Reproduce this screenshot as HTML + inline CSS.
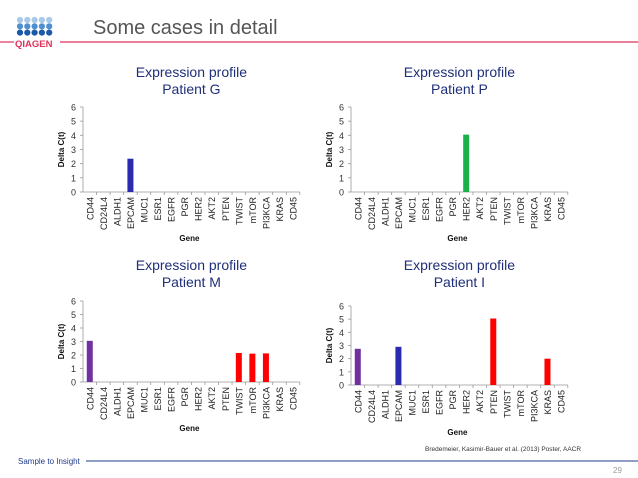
<!DOCTYPE html>
<html><head><meta charset="utf-8"><style>
body{margin:0;width:638px;height:478px;background:#fff;overflow:hidden;font-family:"Liberation Sans",sans-serif}
svg{display:block}
</style></head><body>
<svg id="s" width="638" height="478">
<g id="logo"></g>
<text x="93" y="34" font-size="20" fill="#555">Some cases in detail</text>
<line x1="0" y1="42" x2="14" y2="42" stroke="#e0325a" stroke-width="1.2"/>
<line x1="60" y1="42" x2="638" y2="42" stroke="#e0325a" stroke-width="1.2"/>
<text x="18" y="464" font-size="8" fill="#1f3a8a">Sample to Insight</text>
<line x1="86" y1="461" x2="638" y2="461" stroke="#1f3a8a" stroke-width="1"/>
<text x="613" y="473" font-size="8" fill="#999">29</text>
<text x="425" y="451" font-size="6.5" fill="#333">Bredemeier, Kasimir-Bauer et al. (2013) Poster, AACR</text>
</svg>
<script>
const genes=["CD44","CD24L4","ALDH1","EPCAM","MUC1","ESR1","EGFR","PGR","HER2","AKT2","PTEN","TWIST","mTOR","PI3KCA","KRAS","CD45"];
const yTicks=[0,1,2,3,4,5,6];
const valuesG=[0,0,0,2.35,0,0,0,0,0,0,0,0,0,0,0,0];
const valuesP=[0,0,0,0,0,0,0,0,4.05,0,0,0,0,0,0,0];
const valuesM=[3.05,0,0,0,0,0,0,0,0,0,0,2.15,2.1,2.12,0,0];
const valuesI=[2.75,0,0,2.9,0,0,0,0,0,0,5.05,0,0,0,2.0,0];
const NS="http://www.w3.org/2000/svg";
const s=document.getElementById('s');
function mk(tag,attrs,parent,txt){const e=document.createElementNS(NS,tag);for(const k in attrs)e.setAttribute(k,attrs[k]);if(txt!==undefined)e.textContent=txt;(parent||s).appendChild(e);return e;}
const logo=document.getElementById('logo');
const lc=["#a9c9e8","#4f8fd0","#1a5aa8"];
for(let r=0;r<3;r++)for(let c=0;c<5;c++){const d=mk('circle',{cx:20+c*7.3,cy:20+r*6.3,r:3.1,fill:lc[r]},logo);

}
const lt=mk('text',{x:15,y:47,'font-size':9.5,'font-weight':'bold',fill:'#e0325a'},logo,'QIAGEN');


function chart(name,ox,y0,y6,title2,vals,colorFn,titleY,geneY){
  const g=mk('g',{});
  
  
  const step=13.55, len=step*genes.length;
  const xs=i=>ox+(i+0.5)*step;
  const ys=v=>y0-(y0-y6)*v/6;
  const cx=ox+len/2;
  const t1=mk('text',{x:cx,y:titleY,'text-anchor':'middle','font-size':14,fill:'#1f2f7a'},g,'Expression profile');
  
  
  const t2=mk('text',{x:cx,y:titleY+17,'text-anchor':'middle','font-size':14,fill:'#1f2f7a'},g,title2);
  
  
  const ax=mk('line',{x1:ox,y1:y6,x2:ox,y2:y0,stroke:'#999','stroke-width':0.8},g);
  
  
  const bx=mk('line',{x1:ox,y1:y0,x2:ox+len,y2:y0,stroke:'#999','stroke-width':0.8},g);
  
  
  yTicks.forEach(v=>{
    const tk=mk('line',{x1:ox-3,y1:ys(v),x2:ox,y2:ys(v),stroke:'#999','stroke-width':0.8},g);
    
    
    const tl=mk('text',{x:ox-7,y:ys(v)+3.5,'text-anchor':'end','font-size':9,fill:'#333'},g,String(v));
    
    
  });
  genes.forEach((gn,i)=>{
    const tk=mk('line',{x1:ox+(i+1)*step,y1:y0,x2:ox+(i+1)*step,y2:y0+3,stroke:'#999','stroke-width':0.8},g);
    
    
    const x=xs(i)+3.5,y=y0+5;
    const tl=mk('text',{x:x,y:y,'text-anchor':'end','font-size':9,fill:'#222',transform:`rotate(-90 ${x} ${y})`},g,gn);
    
    
    if(vals[i]>0){
      const b=mk('rect',{x:xs(i)-3,y:ys(vals[i]),width:6,height:y0-ys(vals[i]),fill:colorFn(i)},g);
      
      
    }
  });
  const yl=mk('text',{x:ox-19,y:(y0+y6)/2,'text-anchor':'middle','font-size':8,'font-weight':'bold',fill:'#111',transform:`rotate(-90 ${ox-19} ${(y0+y6)/2})`},g,'Delta C(t)');
  
  
  const xl=mk('text',{x:cx-2,y:geneY,'text-anchor':'middle','font-size':8,'font-weight':'bold',fill:'#111'},g,'Gene');
  
  
}
const colG=i=>"#2a2ab0";
const colP=i=>"#1ab04a";
const colM=i=>i===0?"#7030a0":"red";
const colI=i=>i===0?"#7030a0":(i===3?"#2a2ab0":"red");
chart('patient-g',83,192,107,'Patient G',valuesG,colG,77,241);
chart('patient-p',351,192,107,'Patient P',valuesP,colP,77,241);
chart('patient-m',83,382,301,'Patient M',valuesM,colM,270,431);
chart('patient-i',351,385,306,'Patient I',valuesI,colI,270,435);
</script>
</body></html>
